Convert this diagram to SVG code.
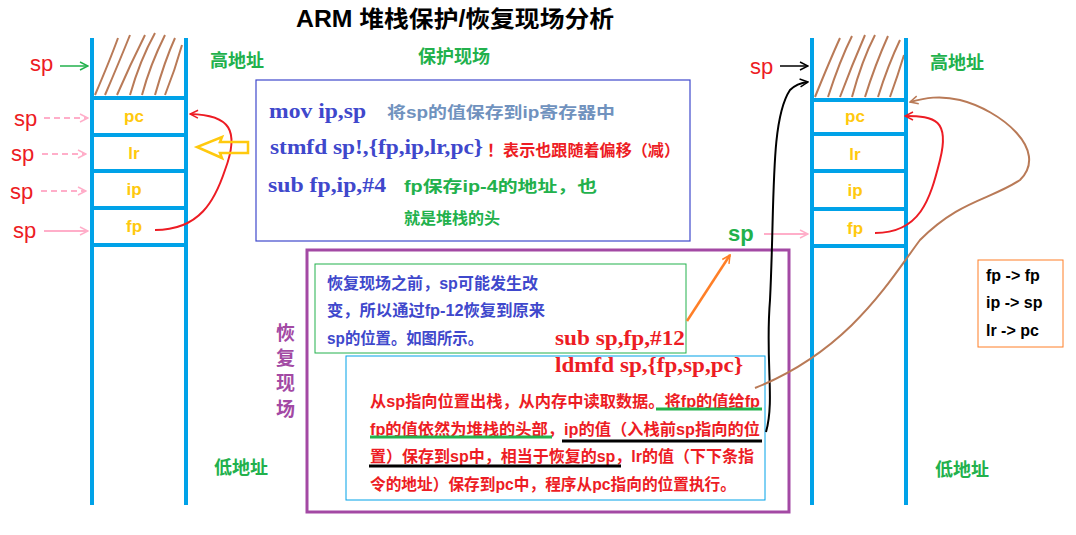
<svg xmlns="http://www.w3.org/2000/svg" width="1076" height="535" viewBox="0 0 1076 535">
<defs>
<style>
.st{fill:none;stroke:#00A2E8;stroke-width:4}
.sk{font-family:"Liberation Sans","Noto Sans CJK SC",sans-serif;font-weight:bold}
.y{fill:#FFC90E;font-size:17px}
.sp{fill:#ED1C24;font-size:22px;font-family:"Liberation Sans",sans-serif}
.g{fill:#22B14C;font-size:18px}
.code{font-family:"Liberation Serif",serif;font-weight:bold;font-size:21px}
.cn{font-family:"Liberation Sans","Noto Sans CJK SC",sans-serif;font-weight:bold;font-size:16px}
</style>
<marker id="ah" markerWidth="10" markerHeight="10" refX="9" refY="5" orient="auto" markerUnits="userSpaceOnUse"><path d="M1,1 L9,5 L1,9" fill="none" stroke="context-stroke" stroke-width="1.5"/></marker>
</defs>
<rect width="1076" height="535" fill="#fff"/>
<text x="455" y="27" text-anchor="middle" class="sk" font-size="23" fill="#000" textLength="318" lengthAdjust="spacingAndGlyphs">ARM 堆栈保护/恢复现场分析</text>

<g id="left-stack">
<g stroke="#B97A57" stroke-width="2" fill="none">
<path d="M95,95 Q110,60 118,38 M105,95 Q120,60 130,35 M117,95 Q130,65 145,35 M130,95 Q140,60 155,33 M142,95 Q150,65 165,35 M155,95 Q165,60 175,38 M165,95 Q175,70 182,45"/>
</g>
<path class="st" d="M92,38 V505 M186,38 V505 M92,98 H186 M92,135 H186 M92,171 H186 M92,208 H186 M92,245 H186"/>
<text class="sk y" x="134" y="122" text-anchor="middle">pc</text>
<text class="sk y" x="134" y="159" text-anchor="middle">lr</text>
<text class="sk y" x="134" y="195" text-anchor="middle">ip</text>
<text class="sk y" x="134" y="232" text-anchor="middle">fp</text>
<text class="sk g" x="210" y="67">高地址</text>
<text class="sk g" x="214" y="474">低地址</text>
</g>

<g id="right-stack">
<g stroke="#B97A57" stroke-width="2" fill="none">
<path d="M815,97 Q830,60 840,38 M828,97 Q840,60 852,36 M840,97 Q852,65 865,35 M852,97 Q862,60 875,35 M865,97 Q875,65 888,36 M878,97 Q888,65 900,40 M890,97 Q898,75 904,55"/>
</g>
<path class="st" d="M812,38 V505 M906,38 V505 M812,100 H906 M812,134 H906 M812,171 H906 M812,209 H906 M812,246 H906"/>
<text class="sk y" x="855" y="122" text-anchor="middle">pc</text>
<text class="sk y" x="855" y="160" text-anchor="middle">lr</text>
<text class="sk y" x="855" y="196" text-anchor="middle">ip</text>
<text class="sk y" x="855" y="234" text-anchor="middle">fp</text>
<text class="sk g" x="930" y="69">高地址</text>
<text class="sk g" x="935" y="476">低地址</text>
</g>

<g id="sp-labels">
<text class="sp" x="30" y="71">sp</text>
<text class="sp" x="14" y="126">sp</text>
<text class="sp" x="11" y="161">sp</text>
<text class="sp" x="10" y="199">sp</text>
<text class="sp" x="13" y="238">sp</text>
<text class="sp" x="750" y="74">sp</text>
<text class="sk" x="728" y="241" font-size="22" fill="#22B14C">sp</text>
</g>

<g id="protect-box">
<text class="sk g" x="418" y="63">保护现场</text>
<rect x="256" y="80" width="434" height="161" fill="none" stroke="#3F48CC" stroke-width="1.2"/>
<text class="code" x="269" y="118" fill="#3F48CC" textLength="97" lengthAdjust="spacingAndGlyphs">mov ip,sp</text>
<text class="cn" x="387" y="118" fill="#7092BE" textLength="228" lengthAdjust="spacingAndGlyphs">将sp的值保存到ip寄存器中</text>
<text class="code" x="270" y="154" fill="#3F48CC" textLength="213" lengthAdjust="spacingAndGlyphs">stmfd sp!,{fp,ip,lr,pc}</text>
<text class="cn" x="487" y="156" fill="#ED1C24" font-size="15" textLength="193" lengthAdjust="spacingAndGlyphs">！表示也跟随着偏移（减）</text>
<text class="code" x="268" y="192" fill="#3F48CC" textLength="118" lengthAdjust="spacingAndGlyphs">sub fp,ip,#4</text>
<text class="cn" x="404" y="192" fill="#22B14C" font-size="17" textLength="193" lengthAdjust="spacingAndGlyphs">fp保存ip-4的地址，也</text>
<text class="cn" x="404" y="224" fill="#22B14C" font-size="17">就是堆栈的头</text>
</g>

<g id="restore-box">
<rect x="307" y="250" width="482" height="262" fill="none" stroke="#A349A4" stroke-width="3"/>
<text class="sk" x="276" y="340" font-size="19" fill="#A349A4">恢</text>
<text class="sk" x="276" y="365" font-size="19" fill="#A349A4">复</text>
<text class="sk" x="276" y="390" font-size="19" fill="#A349A4">现</text>
<text class="sk" x="276" y="416" font-size="19" fill="#A349A4">场</text>
<rect x="315" y="264" width="371" height="89" fill="none" stroke="#22B14C" stroke-width="1"/>
<text class="cn" x="327" y="289" fill="#3F48CC" textLength="211" lengthAdjust="spacingAndGlyphs">恢复现场之前，sp可能发生改</text>
<text class="cn" x="327" y="316" fill="#3F48CC" textLength="218" lengthAdjust="spacingAndGlyphs">变，所以通过fp-12恢复到原来</text>
<text class="cn" x="327" y="344" fill="#3F48CC" textLength="156" lengthAdjust="spacingAndGlyphs">sp的位置。如图所示。</text>
<text class="code" x="555" y="345" fill="#ED1C24" font-size="23" textLength="130" lengthAdjust="spacingAndGlyphs">sub sp,fp,#12</text>
<text class="code" x="555" y="372" fill="#ED1C24" font-size="23" textLength="188" lengthAdjust="spacingAndGlyphs">ldmfd sp,{fp,sp,pc}</text>
<rect x="346" y="356" width="419" height="144" fill="none" stroke="#00A2E8" stroke-width="1"/>
<g class="cn" fill="#ED1C24" font-size="15">
<text x="370" y="407" textLength="390" lengthAdjust="spacingAndGlyphs">从sp指向位置出栈，从内存中读取数据。将fp的值给fp</text>
<text x="370" y="435" textLength="390" lengthAdjust="spacingAndGlyphs">fp的值依然为堆栈的头部，ip的值（入栈前sp指向的位</text>
<text x="370" y="462" textLength="384" lengthAdjust="spacingAndGlyphs">置）保存到sp中，相当于恢复的sp，lr的值（下下条指</text>
<text x="370" y="490" textLength="366" lengthAdjust="spacingAndGlyphs">令的地址）保存到pc中，程序从pc指向的位置执行。</text>
</g>
<g stroke-width="3" fill="none">
<path d="M656,409 H762 M370,437 H552" stroke="#22B14C"/>
<path d="M562,441 H762 M369,466 H621" stroke="#000"/>
</g>
</g>

<g id="map-box">
<rect x="978" y="260" width="85" height="87" fill="none" stroke="#FF7F27" stroke-width="1"/>
<text class="cn" x="986" y="281" fill="#000" font-size="15">fp -&gt; fp</text>
<text class="cn" x="986" y="308" fill="#000" font-size="15">ip -&gt; sp</text>
<text class="cn" x="986" y="336" fill="#000" font-size="15">lr  -&gt; pc</text>
</g>

<g id="connectors" fill="none" stroke-width="1.5">
<path d="M60,66 H88" stroke="#22B14C" marker-end="url(#ah)"/>
<path d="M44,118 H88" stroke="#FFAEC9" stroke-width="2" stroke-dasharray="6,4" marker-end="url(#ah)"/>
<path d="M42,154 H86" stroke="#FFAEC9" stroke-width="2" stroke-dasharray="6,4" marker-end="url(#ah)"/>
<path d="M41,191 H86" stroke="#FFAEC9" stroke-width="2" stroke-dasharray="6,4" marker-end="url(#ah)"/>
<path d="M44,231 H88" stroke="#FFAEC9" stroke-width="2" marker-end="url(#ah)"/>
<path d="M780,66 H808" stroke="#000" marker-end="url(#ah)"/>
<path d="M764,234 H808" stroke="#FFAEC9" stroke-width="2" marker-end="url(#ah)"/>
<path d="M155,230 C200,230 215,200 225,170 C240,130 230,115 190,114" stroke="#ED1C24" stroke-width="2" marker-end="url(#ah)"/>
<path d="M875,233 C920,233 930,200 940,160 C950,120 935,116 905,116" stroke="#ED1C24" stroke-width="2" marker-end="url(#ah)"/>
<path d="M248,142 V153 H220 L222,158 L197,147 L222,137 L220,142 Z" stroke="#FFC90E" stroke-width="2.5"/>
<path d="M687,321 L730,255" stroke="#FF7F27" stroke-width="2.5" marker-end="url(#ah)"/>
<path d="M766,432 C775,400 765,360 770,300 C775,200 770,120 790,90 C795,85 800,83 808,82" stroke="#000" stroke-width="2" marker-end="url(#ah)"/>
<path d="M755,388 C850,350 890,280 920,240 C960,200 990,200 1020,180 C1050,150 1000,110 960,100 C940,95 925,98 910,102" stroke="#B97A57" stroke-width="2" marker-end="url(#ah)"/>
</g>
</svg>
